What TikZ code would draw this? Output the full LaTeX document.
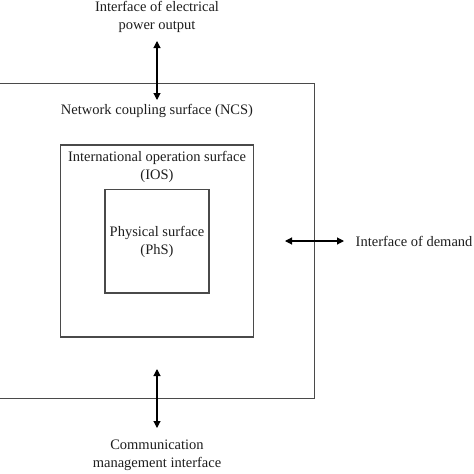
\documentclass[tikz,border=0pt]{standalone}
\usepackage{fontspec}
\setmainfont{Liberation Serif}
\usetikzlibrary{arrows.meta}
\definecolor{boxgray}{HTML}{4A4A4A}
\definecolor{txt}{HTML}{1E1E1E}
\begin{document}
\begin{tikzpicture}[x=1pt,y=-1pt,
  surf/.style={draw=boxgray, line width=1.1pt, inner sep=0pt, fill=none},
  lbl/.style={align=center, inner sep=0pt, text=txt, font=\fontsize{14.5}{18}\selectfont},
  biarrow/.style={{Triangle[length=7pt,width=7pt]}-{Triangle[length=7pt,width=7pt]}, line width=1.1pt, black}]
\useasboundingbox (0,0) rectangle (474,474);
\node[surf, minimum width=316.5pt, minimum height=315pt] (ncs) at (156.25,241) {};
\node[surf, minimum width=193pt, minimum height=192pt] (ios) at (157,241) {};
\node[surf, minimum width=104pt, minimum height=103.5pt] (phs) at (157,241.25) {};
\node[lbl] (top) at (157,16.5) {Interface of electrical\\power output};
\node[lbl] (ncsl) at (157,111) {Network coupling surface (NCS)};
\node[lbl] (iosl) at (157,167) {International operation surface\\(IOS)};
\node[lbl] (phsl) at (157,241.5) {Physical surface\\(PhS)};
\node[lbl, anchor=west] (dem) at (355.5,241) {Interface of demand};
\node[lbl] (bot) at (157,455.5) {Communication\\management interface};
\coordinate (t1) at (157,41);
\coordinate (t2) at (157,100);
\coordinate (r1) at (285,241);
\coordinate (r2) at (344,241);
\coordinate (b1) at (157,369);
\coordinate (b2) at (157,428);
\draw[biarrow] (t1) -- (t2);
\draw[biarrow] (r1) -- (r2);
\draw[biarrow] (b1) -- (b2);
\end{tikzpicture}
\end{document}
